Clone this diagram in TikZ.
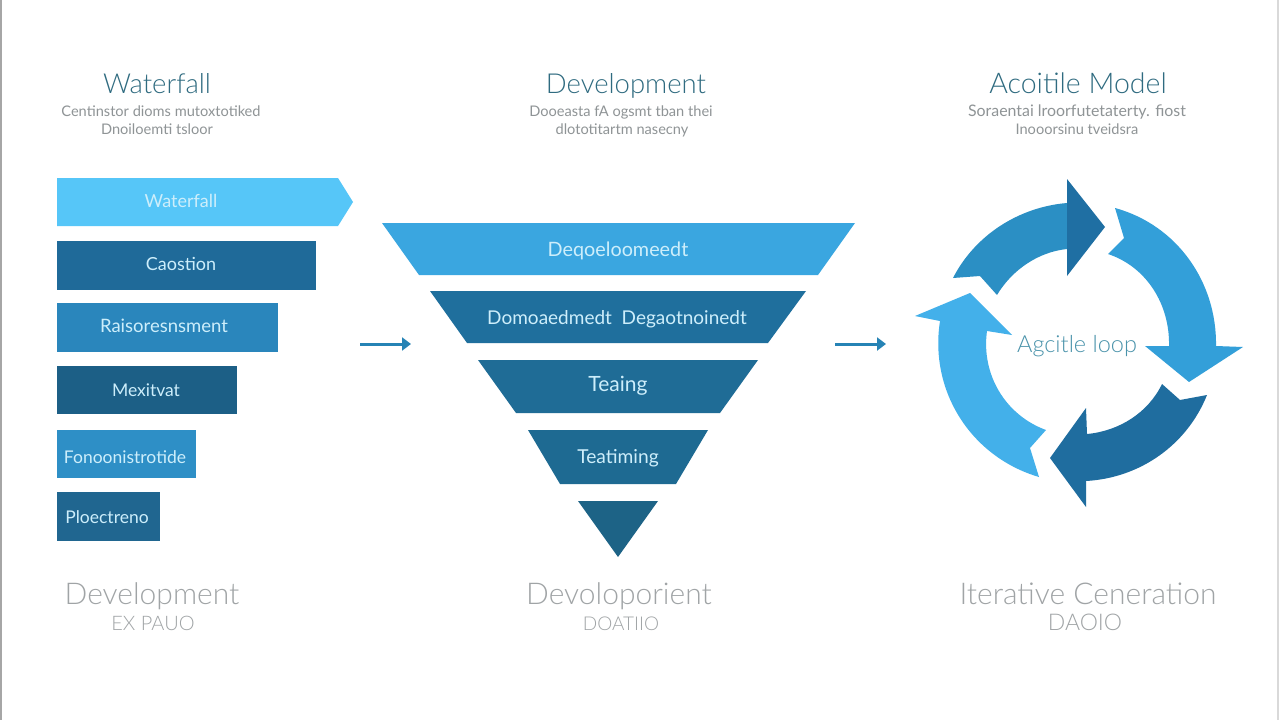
\documentclass[tikz,border=0pt]{standalone}
\usepackage{fontspec}
\setmainfont{Lato}
\newfontfamily\thin{Lato Light}
\usetikzlibrary{arrows.meta}
\definecolor{titlec}{HTML}{2F6B80}
\definecolor{subc}{HTML}{8F9496}
\definecolor{footc}{HTML}{A0A4A6}
\definecolor{labc}{HTML}{CDEEFB}
\definecolor{loopc}{HTML}{4A93AB}
\definecolor{arrowc}{HTML}{2683B5}
\definecolor{barA}{HTML}{56C6F8}
\definecolor{barB}{HTML}{1F6A99}
\definecolor{barC}{HTML}{2A86BC}
\definecolor{barD}{HTML}{1C5F86}
\definecolor{barE}{HTML}{2E8FC6}
\definecolor{barF}{HTML}{206690}
\definecolor{funA}{HTML}{3AA6E0}
\definecolor{funB}{HTML}{1F6F9D}
\definecolor{funC}{HTML}{1F6C96}
\definecolor{funD}{HTML}{1E6A92}
\definecolor{funE}{HTML}{1D6386}
\definecolor{ringA}{HTML}{2B8FC4}
\definecolor{ringH}{HTML}{1F6FA3}
\definecolor{ringB}{HTML}{339FD9}
\definecolor{ringC}{HTML}{1F6D9F}
\definecolor{ringD}{HTML}{43B0EA}
\newcommand{\fs}[1]{\fontsize{#1}{#1}\selectfont}
\tikzset{
  title/.style={text=titlec,anchor=base,inner sep=0pt},
  subt/.style={text=subc,anchor=base,inner sep=0pt},
  foot/.style={text=footc,anchor=base,inner sep=0pt},
  lab/.style={text=labc,anchor=base,inner sep=0pt},
  flow/.style={draw=arrowc,line width=3pt,-{Triangle[length=9pt,width=13pt]}},
}
\begin{document}
\begin{tikzpicture}[x=1pt,y=-1pt]
\useasboundingbox (0,0) rectangle (1280,720);
\fill[white] (0,0) rectangle (1280,720);
\fill[black!35] (0,0) rectangle (1.6,720);
\fill[black!15] (1277,0) rectangle (1278.5,720);
% left bars
\fill[barA] (57,178) -- (338,178) -- (353,202) -- (338,226) -- (57,226) -- cycle;
\fill[barB] (57,241) rectangle (316,290);
\fill[barC] (57,303) rectangle (278,352);
\fill[barD] (57,366) rectangle (237,414);
\fill[barE] (57,430) rectangle (196,478);
\fill[barF] (57,492) rectangle (160,541);
\node[lab,font=\fs{18}] (b1) at (181,207) {Waterfall};
\node[lab,font=\fs{18}] (b2) at (181,270) {Caostion};
\node[lab,font=\fs{18.5}] (b3) at (164,332) {Raisoresnsment};
\node[lab,font=\fs{17.5}] (b4) at (146,396) {Mexitvat};
\node[lab,font=\fs{17.5}] (b5) at (125,463) {Fonoonistrotide};
\node[lab,font=\fs{17.5}] (b6) at (107,523) {Ploectreno};
% funnel
\fill[funA] (382,223) -- (855,223) -- (818,275) -- (419,275) -- cycle;
\fill[funB] (430,291) -- (806,291) -- (768,343) -- (467,343) -- cycle;
\fill[funC] (478,360) -- (758,360) -- (720,413) -- (516,413) -- cycle;
\fill[funD] (528,430) -- (708,430) -- (676,484) -- (560,484) -- cycle;
\fill[funE] (578,501) -- (658,501) -- (618,557) -- cycle;
\node[lab,font=\fs{19.8}] (f1) at (618,256) {Deqoeloomeedt};
\node[lab,font=\fs{19}] (f2) at (617,324) {Domoaedmedt\ \ Degaotnoinedt};
\node[lab,font=\fs{21}] (f3) at (618,391) {Teaing};
\node[lab,font=\fs{19.2}] (f4) at (618,463) {Teatiming};
% connectors
\coordinate (a1s) at (360,344);
\coordinate (a1e) at (411,344);
\coordinate (a2s) at (835,344);
\coordinate (a2e) at (886,344);
\draw[flow] (a1s) -- (a1e);
\draw[flow] (a2s) -- (a2e);
% ring
\fill[ringA] (953,278) .. controls (975,235) and (1019,207) .. (1067,203) -- (1067,249) .. controls (1038,252) and (1012,270) .. (997,295) -- (980,276) -- cycle;
\fill[ringH] (1067,179) -- (1105,227) -- (1067,276) -- cycle;
\fill[ringB] (1115,208) .. controls (1177,225) and (1217,282) .. (1216,346) -- (1243,347) -- (1189,382) -- (1145,346) -- (1169,346) .. controls (1170,305) and (1147,267) .. (1108,254) -- (1124,238) -- cycle;
\fill[ringC] (1207,395) .. controls (1187,445) and (1140,478) .. (1086,481) -- (1086,507) -- (1050,458) -- (1086,408) -- (1087,434) .. controls (1119,431) and (1148,413) .. (1162,384) -- (1180,400) -- cycle;
\fill[ringD] (1039,477) .. controls (971,457) and (929,391) .. (940,321) -- (915,316) -- (970,293) -- (1012,335) -- (987,331) .. controls (981,374) and (1005,415) .. (1046,430) -- (1030,448) -- cycle;
\node[text=loopc,anchor=base,font=\thin\fs{23.5},inner sep=0pt] (loop) at (1077,352) {Agcitle loop};
% titles
\node[title,font=\thin\fs{27.5}] (t1) at (157,93) {Waterfall};
\node[title,font=\thin\fs{27.5}] (t2) at (626,93) {Development};
\node[title,font=\thin\fs{28.5}] (t3) at (1078,93) {Acoitile Model};
\node[subt,font=\fs{14.6}] (s1a) at (161,116) {Centinstor dioms mutoxtotiked};
\node[subt,font=\fs{14.6}] (s1b) at (157,134) {Dnoiloemti tsloor};
\node[subt,font=\fs{14.6}] (s2a) at (621,116) {Dooeasta fA ogsmt tban thei};
\node[subt,font=\fs{14.6}] (s2b) at (622,134) {dlototitartm nasecny};
\node[subt,font=\fs{15.9}] (s3a) at (1077,116) {Soraentai lroorfutetaterty. fiost};
\node[subt,font=\fs{14.6}] (s3b) at (1077,134) {Inooorsinu tveidsra};
% footers
\node[foot,font=\thin\fs{30}] (d1) at (152,604) {Development};
\node[foot,font=\thin\fs{30}] (d2) at (619,604) {Devoloporient};
\node[foot,font=\thin\fs{30}] (d3) at (1088,604) {Iterative Ceneration};
\node[foot,font=\thin\fs{20}] (e1) at (153,630) {EX PAUO};
\node[foot,font=\thin\fs{19}] (e2) at (621,630) {DOATIIO};
\node[foot,font=\thin\fs{23}] (e3) at (1085,630) {DAOIO};
\end{tikzpicture}
\end{document}
